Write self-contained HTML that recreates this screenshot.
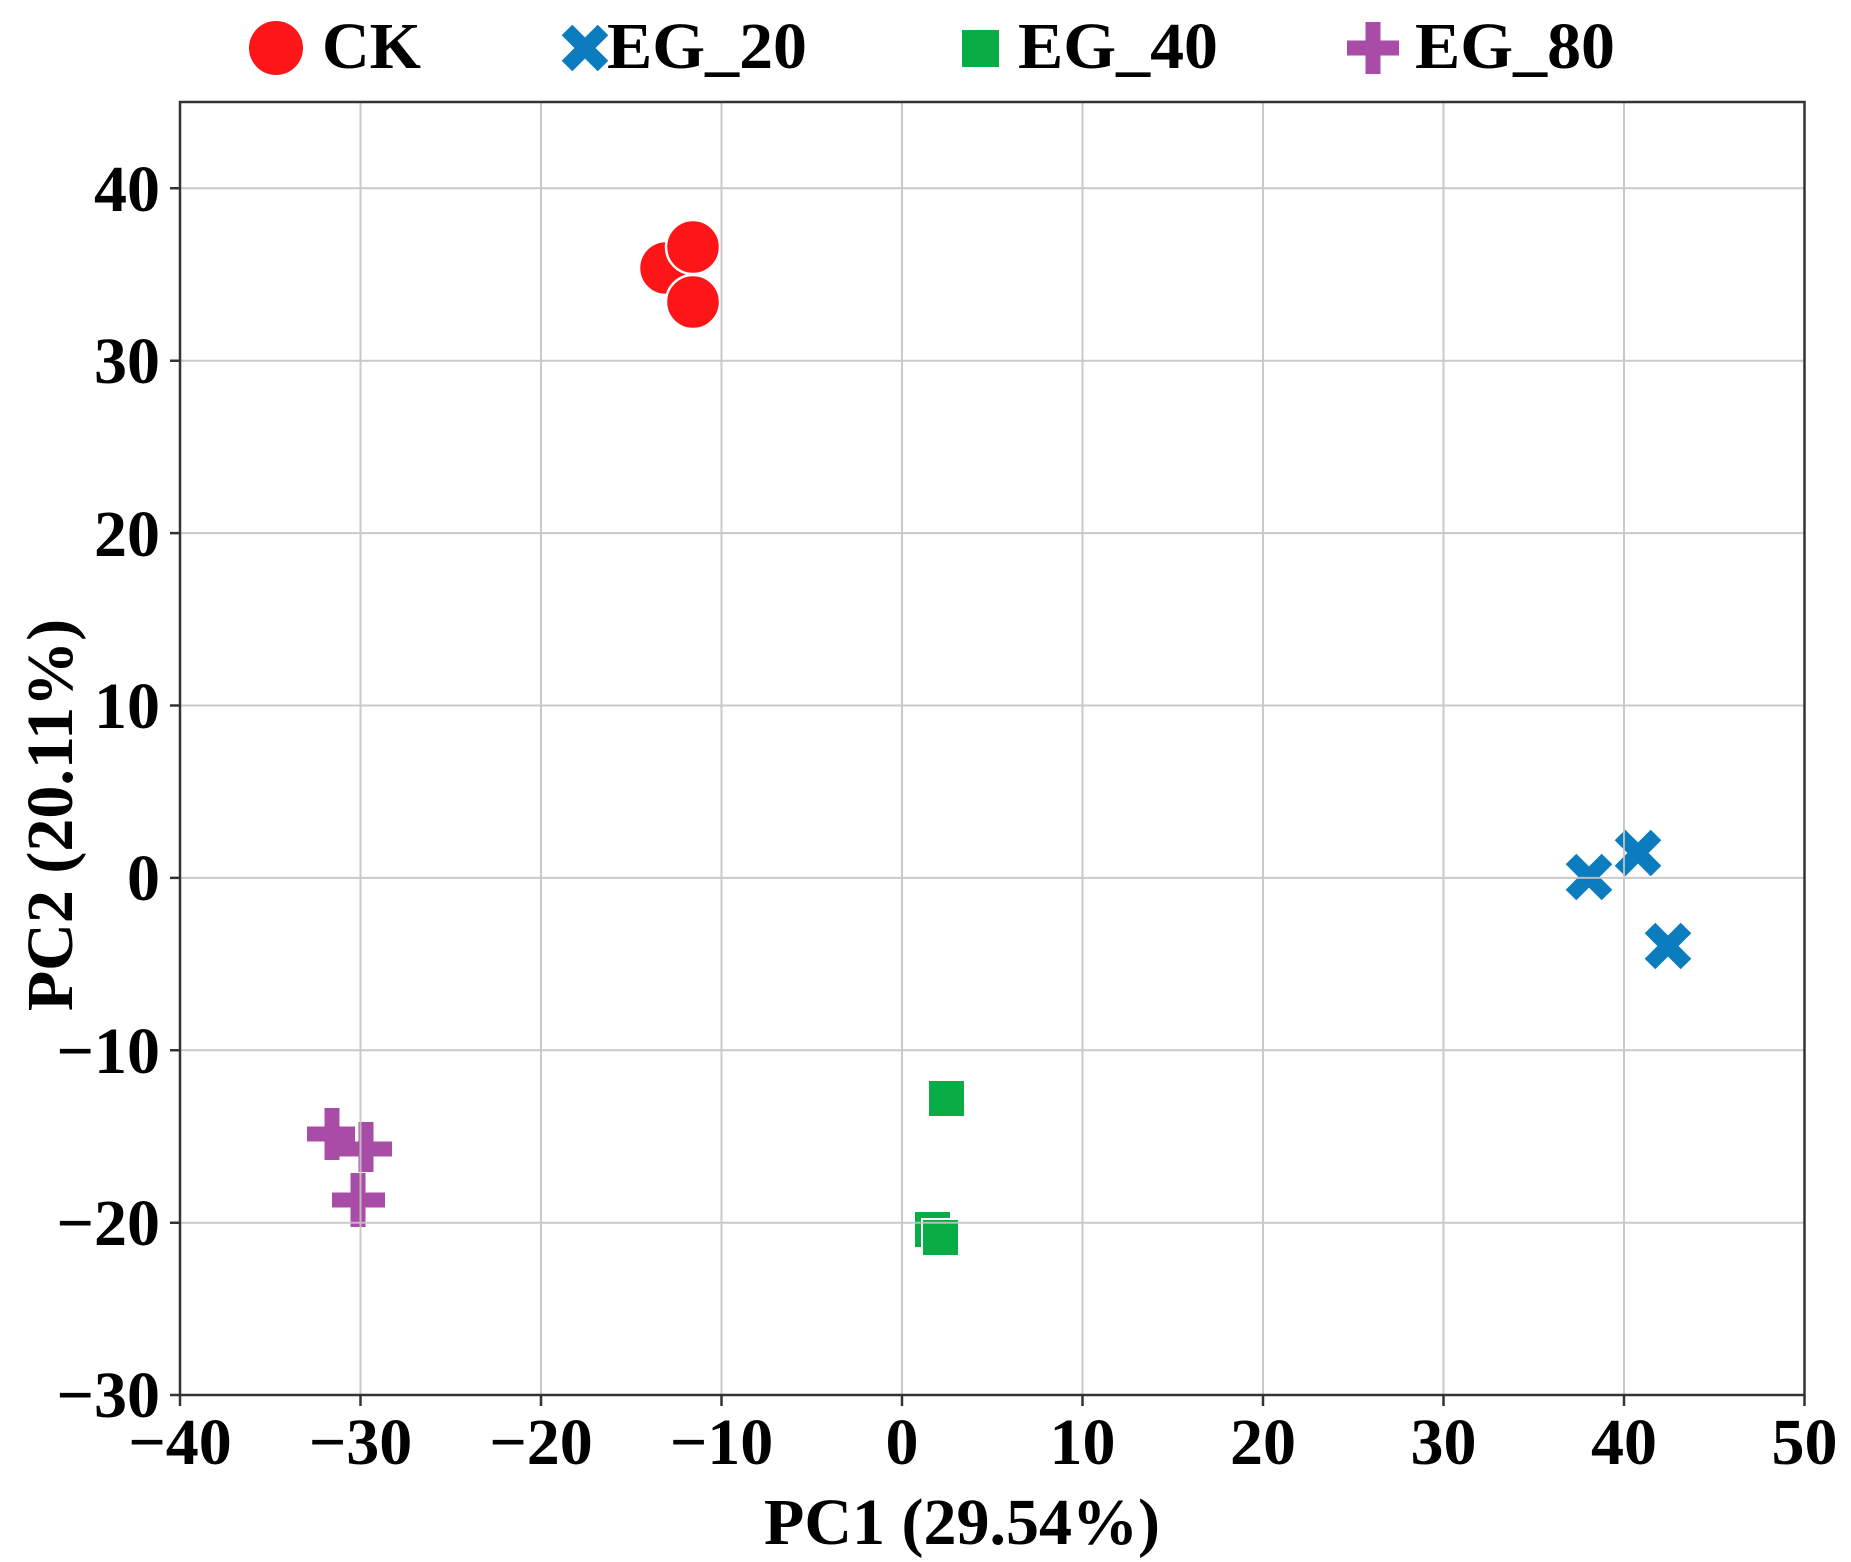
<!DOCTYPE html>
<html><head><meta charset="utf-8"><style>
html,body{margin:0;padding:0;background:#fff;}
svg{display:block;}
text{font-family:"Liberation Serif",serif;font-weight:bold;fill:#000;}
</style></head><body>
<svg width="1851" height="1562" viewBox="0 0 1851 1562" xmlns="http://www.w3.org/2000/svg">
<rect width="1851" height="1562" fill="#fff"/>
<!-- markers -->
<g stroke="#fff" stroke-width="2.5">
<circle cx="666" cy="268" r="27" fill="#fd1518"/>
<circle cx="693" cy="302" r="27" fill="#fd1518"/>
<circle cx="693" cy="247" r="27" fill="#fd1518"/>
</g>
<g stroke="#fff" stroke-width="2">
<rect x="914" y="1211" width="37" height="37" fill="#0aad45"/>
<rect x="922" y="1219" width="37" height="37" fill="#0aad45"/>
<rect x="928" y="1080" width="37" height="37" fill="#0aad45"/>
</g>
<g stroke="#0b7dbe" stroke-width="15" stroke-linecap="butt">
<path d="M1571 859 L1607 895 M1607 859 L1571 895"/>
<path d="M1620 835 L1656 871 M1656 835 L1620 871"/>
<path d="M1650 928 L1686 964 M1686 928 L1650 964"/>
</g>
<g stroke="#a94ca8" stroke-width="15">
<path d="M307 1134 H355 M332 1108 V1160"/>
<path d="M339 1149 H392 M366 1122 V1172"/>
<path d="M332 1200 H385 M358 1173 V1227"/>
</g>
<!-- grid -->
<g stroke="#c4c4c4" stroke-width="2" opacity="0.9">
<line x1="360.5" y1="102" x2="360.5" y2="1395"/>
<line x1="541" y1="102" x2="541" y2="1395"/>
<line x1="721.5" y1="102" x2="721.5" y2="1395"/>
<line x1="902" y1="102" x2="902" y2="1395"/>
<line x1="1082.5" y1="102" x2="1082.5" y2="1395"/>
<line x1="1263" y1="102" x2="1263" y2="1395"/>
<line x1="1443.5" y1="102" x2="1443.5" y2="1395"/>
<line x1="1624" y1="102" x2="1624" y2="1395"/>
<line x1="180" y1="188.3" x2="1804" y2="188.3"/>
<line x1="180" y1="360.7" x2="1804" y2="360.7"/>
<line x1="180" y1="533.1" x2="1804" y2="533.1"/>
<line x1="180" y1="705.5" x2="1804" y2="705.5"/>
<line x1="180" y1="877.9" x2="1804" y2="877.9"/>
<line x1="180" y1="1050.3" x2="1804" y2="1050.3"/>
<line x1="180" y1="1222.7" x2="1804" y2="1222.7"/>
</g>
<!-- axes -->
<rect x="180" y="102" width="1624.5" height="1293" fill="none" stroke="#333" stroke-width="2.5"/>
<g stroke="#333" stroke-width="2.5">
<path d="M180 1395v11M360.5 1395v11M541 1395v11M721.5 1395v11M902 1395v11M1082.5 1395v11M1263 1395v11M1443.5 1395v11M1624 1395v11M1804.5 1395v11"/>
<path d="M170 188.3h10M170 360.7h10M170 533.1h10M170 705.5h10M170 877.9h10M170 1050.3h10M170 1222.7h10M170 1395h10"/>
</g>
<!-- tick labels -->
<g font-size="66" text-anchor="middle">
<text x="180" y="1464">−40</text>
<text x="360.5" y="1464">−30</text>
<text x="541" y="1464">−20</text>
<text x="721.5" y="1464">−10</text>
<text x="902" y="1464">0</text>
<text x="1082.5" y="1464">10</text>
<text x="1263" y="1464">20</text>
<text x="1443.5" y="1464">30</text>
<text x="1624" y="1464">40</text>
<text x="1804.5" y="1464">50</text>
</g>
<g font-size="66" text-anchor="end">
<text x="160" y="211">40</text>
<text x="160" y="383">30</text>
<text x="160" y="556">20</text>
<text x="160" y="728">10</text>
<text x="160" y="900">0</text>
<text x="160" y="1073">−10</text>
<text x="160" y="1245">−20</text>
<text x="160" y="1417">−30</text>
</g>
<text x="962" y="1544" font-size="66" text-anchor="middle">PC1 (29.54%)</text>
<text transform="translate(72,815) rotate(-90)" font-size="66" text-anchor="middle">PC2 (20.11%)</text>
<!-- legend -->
<circle cx="276" cy="48" r="27" fill="#fd1518"/>
<text x="322" y="68" font-size="66">CK</text>
<path d="M567 30 L603 66 M603 30 L567 66" stroke="#0b7dbe" stroke-width="15"/>
<text x="607" y="68" font-size="66" textLength="200" lengthAdjust="spacingAndGlyphs">EG_20</text>
<rect x="962" y="30" width="37" height="37" fill="#0aad45"/>
<text x="1018" y="68" font-size="66" textLength="200" lengthAdjust="spacingAndGlyphs">EG_40</text>
<path d="M1347 48 H1399 M1373 22 V74" stroke="#a94ca8" stroke-width="15"/>
<text x="1415" y="68" font-size="66" textLength="200" lengthAdjust="spacingAndGlyphs">EG_80</text>
</svg>
</body></html>
